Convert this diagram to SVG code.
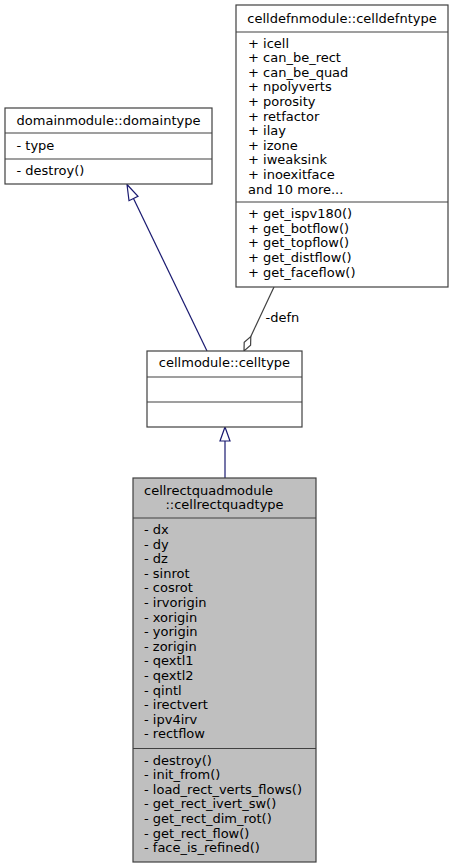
<svg xmlns="http://www.w3.org/2000/svg" width="453" height="868" viewBox="0 0 453 868">
<style>
text{font-family:"DejaVu Sans",sans-serif;font-size:13px;fill:#000}
.box{fill:#fff;stroke:#404040;stroke-width:1.2}
.hl{fill:#bfbfbf;stroke:#404040;stroke-width:1.2}
.sep{stroke:#404040;stroke-width:1.2}
.c{text-anchor:middle}
.inh{stroke:#191970;stroke-width:1.2;fill:none}
.agg{stroke:#404040;stroke-width:1.2;fill:none}
</style>
<rect width="453" height="868" fill="#fff"/>
<g id="connectors">
<line class="inh" x1="207" y1="351" x2="133.5" y2="198.5"/>
<polygon class="inh" fill="#fff" style="fill:#fff" points="127,184.5 138,196.3 129,200.7"/>
<line class="agg" x1="274" y1="287" x2="250.8" y2="336.5"/>
<polygon class="agg" style="fill:#fff" points="244,351 244.2,342.3 250.8,336.5 250.6,345.3"/>
<text x="265.5" y="322">-defn</text>
<line class="inh" x1="225" y1="478" x2="225" y2="441"/>
<polygon class="inh" style="fill:#fff" points="225,427 220,441 230,441"/>
</g>
<g id="celldefntype">
<rect class="box" x="236" y="5" width="212" height="282"/>
<line class="sep" x1="236" y1="32" x2="448" y2="32"/>
<line class="sep" x1="236" y1="202" x2="448" y2="202"/>
<text class="c" x="342" y="22.5">celldefnmodule::celldefntype</text>
<text x="248" y="47.5">+ icell</text>
<text x="248" y="62.1">+ can_be_rect</text>
<text x="248" y="76.7">+ can_be_quad</text>
<text x="248" y="91.3">+ npolyverts</text>
<text x="248" y="105.9">+ porosity</text>
<text x="248" y="120.5">+ retfactor</text>
<text x="248" y="135.1">+ ilay</text>
<text x="248" y="149.7">+ izone</text>
<text x="248" y="164.3">+ iweaksink</text>
<text x="248" y="178.9">+ inoexitface</text>
<text x="248" y="193.5">and 10 more...</text>
<text x="248" y="218">+ get_ispv180()</text>
<text x="248" y="232.7">+ get_botflow()</text>
<text x="248" y="247.4">+ get_topflow()</text>
<text x="248" y="262.1">+ get_distflow()</text>
<text x="248" y="276.8">+ get_faceflow()</text>
</g>
<g id="domaintype">
<rect class="box" x="5" y="108" width="207" height="76"/>
<line class="sep" x1="5" y1="133" x2="212" y2="133"/>
<line class="sep" x1="5" y1="159" x2="212" y2="159"/>
<text class="c" x="108.5" y="125.4">domainmodule::domaintype</text>
<text x="16.5" y="149.5">- type</text>
<text x="16.5" y="175">- destroy()</text>
</g>
<g id="celltype">
<rect class="box" x="147" y="351" width="155" height="76"/>
<line class="sep" x1="147" y1="377" x2="302" y2="377"/>
<line class="sep" x1="147" y1="402" x2="302" y2="402"/>
<text class="c" x="224.5" y="367">cellmodule::celltype</text>
</g>
<g id="cellrectquadtype">
<rect class="hl" x="133" y="478" width="183" height="384"/>
<line class="sep" x1="133" y1="518" x2="316" y2="518"/>
<line class="sep" x1="133" y1="748.5" x2="316" y2="748.5"/>
<text x="144" y="494.5">cellrectquadmodule</text>
<text class="c" x="224.5" y="509">::cellrectquadtype</text>
<text x="144" y="534">- dx</text>
<text x="144" y="548.6">- dy</text>
<text x="144" y="563.2">- dz</text>
<text x="144" y="577.8">- sinrot</text>
<text x="144" y="592.4">- cosrot</text>
<text x="144" y="607">- irvorigin</text>
<text x="144" y="621.6">- xorigin</text>
<text x="144" y="636.2">- yorigin</text>
<text x="144" y="650.8">- zorigin</text>
<text x="144" y="665.4">- qextl1</text>
<text x="144" y="680">- qextl2</text>
<text x="144" y="694.6">- qintl</text>
<text x="144" y="709.2">- irectvert</text>
<text x="144" y="723.8">- ipv4irv</text>
<text x="144" y="738.4">- rectflow</text>
<text x="144" y="764.5">- destroy()</text>
<text x="144" y="779.1">- init_from()</text>
<text x="144" y="793.7">- load_rect_verts_flows()</text>
<text x="144" y="808.3">- get_rect_ivert_sw()</text>
<text x="144" y="822.9">- get_rect_dim_rot()</text>
<text x="144" y="837.5">- get_rect_flow()</text>
<text x="144" y="852.1">- face_is_refined()</text>
</g>
</svg>
